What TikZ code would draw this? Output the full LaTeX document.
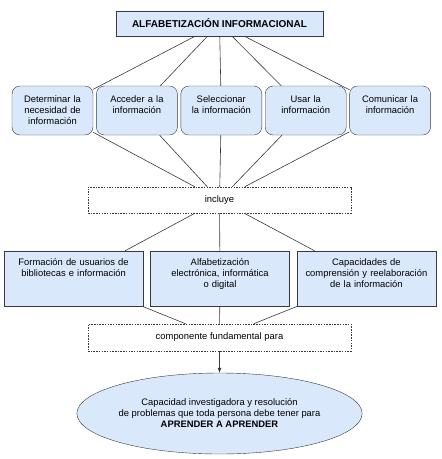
\documentclass[tikz,border=0pt]{standalone}
\usepackage{fontspec}
\setmainfont{Liberation Sans}
\usepackage{xcolor}
\usepackage{tikz}
\usetikzlibrary{positioning,shapes.geometric,arrows.meta}

\definecolor{azul}{HTML}{DAE8FC}
\definecolor{borde}{HTML}{36393D}

\tikzset{
	titulo/.style={draw=borde, fill=azul, minimum width=207pt, minimum height=25pt, inner sep=0pt, font=\bfseries},
	paso/.style={draw=borde, fill=azul, rounded corners=8pt, minimum width=81pt, inner xsep=2pt, inner ysep=8pt,
		text width=77pt, align=center, text height=8pt, text depth=25pt},
	tipo/.style={draw=borde, fill=azul, minimum width=139pt, inner xsep=2pt, inner ysep=7pt,
		text width=135pt, align=center, text height=7.7pt, text depth=33.3pt},
	enlace/.style={draw=borde, dash pattern=on 1.5pt off 1.2pt, minimum width=263pt, minimum height=26pt, inner sep=0pt},
	meta/.style={draw=borde, fill=azul, ellipse, minimum width=237pt, minimum height=81pt, inner sep=0pt, align=center},
	linea/.style={draw=borde, line width=0.6pt},
}

\begin{document}
\begin{tikzpicture}[x=1pt, y=1pt, font=\fontsize{9.4}{11}\selectfont]
			\useasboundingbox (0,0) rectangle (442,-459);
			
			\node[titulo] (alfin) at (219.5,-23.5) {ALFABETIZACIÓN INFORMACIONAL};
			
			% competencias
			\node[paso] (p1) at (52.5,-110.5) {Determinar la necesidad de informaci\'on};
			\node[paso, right=3pt of p1] (p2) {Acceder a la\\informaci\'on};
			\node[paso, right=3pt of p2] (p3) {Seleccionar\\la informaci\'on};
			\node[paso, right=3pt of p3] (p4) {Usar la\\informaci\'on};
			\node[paso, right=3pt of p4] (p5) {Comunicar la\\informaci\'on};
			
			\node[enlace] (incluye) at (219.5,-200) {incluye};
			
			\node[tipo] (t2) at (220,-278.5) {Alfabetizaci\'on\\electr\'onica, inform\'atica\\o digital};
			\node[tipo, left=7pt of t2] (t1) {Formaci\'on de usuarios de\\bibliotecas e informaci\'on};
			\node[tipo, right=7pt of t2] (t3) {Capacidades de\\comprensi\'on y reelaboraci\'on\\de la informaci\'on};
			
			\node[enlace, minimum height=27pt] (comp) at (219.5,-337.5) {componente fundamental para};
			
			\node[meta] (aprender) at (219.5,-413.5) {Capacidad investigadora y resoluci\'on\\de problemas que toda persona debe tener para\\\textbf{APRENDER A APRENDER}};
			
			\foreach \p in {p1,p2,p3,p4,p5}{
				\draw[linea] (alfin) -- (\p);
				\draw[linea] (\p) -- (incluye);
			}
			\foreach \t in {t1,t2,t3}{
				\draw[linea] (incluye) -- (\t);
				\draw[linea] (\t) -- (comp);
			}
			\draw[linea, -{Latex[length=5pt,width=4pt]}] (comp) -- (aprender);
			
\end{tikzpicture}
\end{document}
